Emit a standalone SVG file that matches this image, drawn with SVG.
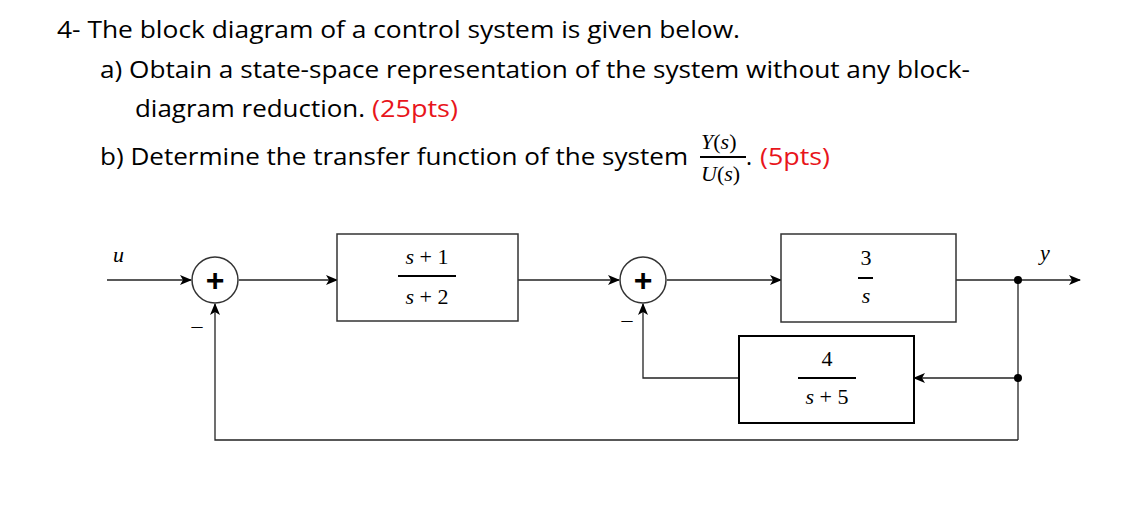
<svg xmlns="http://www.w3.org/2000/svg" width="1128" height="522" viewBox="0 0 1128 522">
<defs>
<marker id="ar" markerWidth="12" markerHeight="10" refX="11" refY="5" orient="auto" markerUnits="userSpaceOnUse"><path d="M0,0 L12,5 L0,10 L3,5 Z" fill="#000"/></marker>
</defs>
<style>
.t{font-family:"Open Sans","Liberation Sans",sans-serif;font-size:23px;fill:#000}
.r{fill:#e8151b}
.m{font-family:"Liberation Serif",serif;font-size:22px;fill:#000}
.i{font-style:italic}
.b{fill:#fff;stroke:#333;stroke-width:1.5}
.l{fill:none;stroke:#222;stroke-width:1.3}
.fr{stroke:#000;stroke-width:2}
</style>
<rect width="1128" height="522" fill="#fff"/>
<text class="t" x="57" y="38" textLength="683" lengthAdjust="spacingAndGlyphs">4- The block diagram of a control system is given below.</text>
<text class="t" x="100" y="78" textLength="870" lengthAdjust="spacingAndGlyphs">a) Obtain a state-space representation of the system without any block-</text>
<text class="t" x="135" y="117" textLength="230" lengthAdjust="spacingAndGlyphs">diagram reduction.</text>
<text class="t r" x="372" y="117" textLength="86" lengthAdjust="spacingAndGlyphs">(25pts)</text>
<text class="t" x="100" y="165" textLength="588" lengthAdjust="spacingAndGlyphs">b) Determine the transfer function of the system</text>
<text class="m i" x="701" y="149" font-size="17">Y<tspan font-style="normal">(</tspan>s<tspan font-style="normal">)</tspan></text>
<line x1="700" y1="157" x2="746" y2="157" class="fr"/>
<text class="m i" x="701" y="181" font-size="17">U<tspan font-style="normal">(</tspan>s<tspan font-style="normal">)</tspan></text>
<text class="t" x="746" y="165">.</text>
<text class="t r" x="760" y="165" textLength="70" lengthAdjust="spacingAndGlyphs">(5pts)</text>

<g id="connectors" class="l">
<line x1="107" y1="280" x2="191" y2="280" marker-end="url(#ar)"/>
<line x1="239" y1="280" x2="337" y2="280" marker-end="url(#ar)"/>
<line x1="518" y1="280" x2="619" y2="280" marker-end="url(#ar)"/>
<line x1="667" y1="280" x2="781" y2="280" marker-end="url(#ar)"/>
<line x1="956" y1="280" x2="1080" y2="280" marker-end="url(#ar)"/>
<line x1="1018" y1="280" x2="1018" y2="440"/>
<line x1="1018" y1="378" x2="914" y2="378" marker-end="url(#ar)"/>
<polyline points="739,378 643,378 643,304" marker-end="url(#ar)"/>
<polyline points="1018,440 215,440 215,304" marker-end="url(#ar)"/>
</g>
<circle cx="1018" cy="280" r="4" fill="#000"/>
<circle cx="1018" cy="378" r="4" fill="#000"/>

<g id="u"><text class="m i" x="113" y="262" font-size="24" fill="#555">u</text></g>
<g id="y"><text class="m i" x="1040" y="260" font-size="24" fill="#555">y</text></g>
<g id="sum1"><circle cx="215" cy="280" r="23" class="b"/><text x="215" y="291" text-anchor="middle" font-family="Liberation Sans,sans-serif" font-size="32" font-weight="bold">+</text><text class="m" x="197" y="333" text-anchor="middle">–</text></g>
<g id="sum2"><circle cx="643" cy="280" r="23" class="b"/><text x="643" y="291" text-anchor="middle" font-family="Liberation Sans,sans-serif" font-size="32" font-weight="bold">+</text><text class="m" x="627" y="327" text-anchor="middle">–</text></g>
<g id="g1"><rect x="337" y="234" width="181" height="87" class="b"/>
<text class="m" x="427" y="264" text-anchor="middle"><tspan font-style="italic">s</tspan> + 1</text>
<line x1="398" y1="276" x2="456" y2="276" class="fr"/>
<text class="m" x="427" y="304" text-anchor="middle"><tspan font-style="italic">s</tspan> + 2</text></g>
<g id="g2"><rect x="781" y="234" width="175" height="88" class="b"/>
<text class="m" x="866" y="265" text-anchor="middle">3</text>
<line x1="858" y1="278" x2="873" y2="278" class="fr"/>
<text class="m i" x="866" y="303" text-anchor="middle">s</text></g>
<g id="h"><rect x="739" y="336" width="175" height="87" class="b" stroke="#000" style="stroke:#000;stroke-width:2"/>
<text class="m" x="827" y="366" text-anchor="middle">4</text>
<line x1="798" y1="378" x2="856" y2="378" class="fr"/>
<text class="m" x="827" y="404" text-anchor="middle"><tspan font-style="italic">s</tspan> + 5</text></g>
</svg>
